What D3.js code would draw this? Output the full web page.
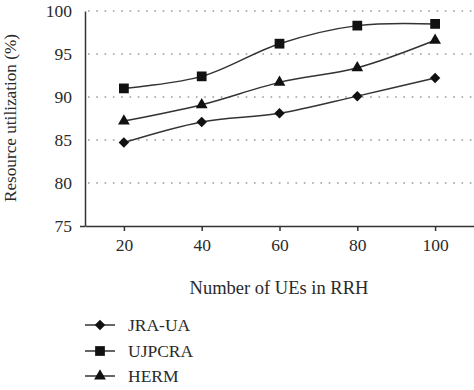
<!DOCTYPE html>
<html><head><meta charset="utf-8">
<script src="https://cdn.jsdelivr.net/npm/d3@7"></script>
<style>
html,body{margin:0;padding:0;background:#fff;}
svg{display:block;}
text{font-family:"Liberation Serif","DejaVu Serif",serif;fill:#2a2a2a;}
</style></head>
<body>
<svg id="chart" width="474" height="390"></svg>
<script>
const categories = [20, 40, 60, 80, 100];
const jraUA  = [84.7, 87.1, 88.1, 90.1, 92.2];
const ujpcra = [91.0, 92.4, 96.2, 98.3, 98.5];
const herm   = [87.2, 89.1, 91.7, 93.4, 96.6];
const seriesNames = ["JRA-UA", "UJPCRA", "HERM"];
const yTicks = [75, 80, 85, 90, 95, 100];
const gridTicks = [80, 85, 90, 95, 100];

const series = [
  {name: seriesNames[0], values: jraUA, symbol: d3.symbolDiamond2, size: 70},
  {name: seriesNames[1], values: ujpcra, symbol: d3.symbolSquare, size: 95},
  {name: seriesNames[2], values: herm, symbol: d3.symbolTriangle, size: 60}
];

const svg = d3.select("#chart");
const x = d3.scaleLinear().domain([10, 110]).range([85, 474]);
const y = d3.scaleLinear().domain([75, 100]).range([226, 11]);

// gridlines
svg.append("g").selectAll("line").data(gridTicks).join("line")
  .attr("x1", 88).attr("x2", 474)
  .attr("y1", d => y(d)).attr("y2", d => y(d))
  .attr("stroke", "#9a9a9a").attr("stroke-width", 1.6)
  .attr("stroke-dasharray", "1.6,6.7");

// axes
const xAxis = d3.axisBottom(x).tickValues(categories).tickSize(5).tickPadding(8).tickSizeOuter(0);
const yAxis = d3.axisLeft(y).tickValues(yTicks).tickSize(5).tickPadding(8).tickSizeOuter(0);

const gx = svg.append("g").attr("transform", `translate(0,${y(75)})`).call(xAxis);
const gy = svg.append("g").attr("transform", `translate(${x(10)},0)`).call(yAxis);
[gx, gy].forEach(g => {
  g.attr("font-family", null);
  g.select(".domain").attr("stroke", "#333").attr("stroke-width", 1.5);
  g.selectAll(".tick line").attr("stroke", "#333").attr("stroke-width", 1.5);
  g.selectAll(".tick text").attr("font-size", 17.5).attr("fill", "#2a2a2a");
});
gy.selectAll(".tick").filter(d => d !== 75).select("line").remove();

// axis titles
svg.append("text").attr("x", 279).attr("y", 294).attr("text-anchor", "middle")
  .attr("font-size", 18.5).text("Number of UEs in RRH");
svg.append("text").attr("transform", "translate(16,118) rotate(-90)")
  .attr("text-anchor", "middle").attr("font-size", 17.2).text("Resource utilization (%)");

// lines
const line = d3.line().x((d, i) => x(categories[i])).y(d => y(d)).curve(d3.curveCatmullRom.alpha(0.5));
series.forEach(s => {
  svg.append("path").attr("d", line(s.values)).attr("fill", "none")
    .attr("stroke", "#333").attr("stroke-width", 1.5);
  svg.append("g").selectAll("path").data(s.values).join("path")
    .attr("transform", (d, i) => `translate(${x(categories[i])},${y(d)})`)
    .attr("d", d3.symbol().type(s.symbol).size(s.size)).attr("fill", "#111");
});

// legend
const legendY = [325, 351, 376];
series.forEach((s, i) => {
  const g = svg.append("g").attr("transform", `translate(0,${legendY[i]})`);
  g.append("line").attr("x1", 85).attr("x2", 115).attr("stroke", "#333").attr("stroke-width", 1.5);
  g.append("path").attr("transform", "translate(100,0)")
    .attr("d", d3.symbol().type(s.symbol).size(s.size)).attr("fill", "#111");
  g.append("text").attr("x", 128).attr("y", 6).attr("font-size", 17.5).text(s.name);
});
</script>
</body></html>
